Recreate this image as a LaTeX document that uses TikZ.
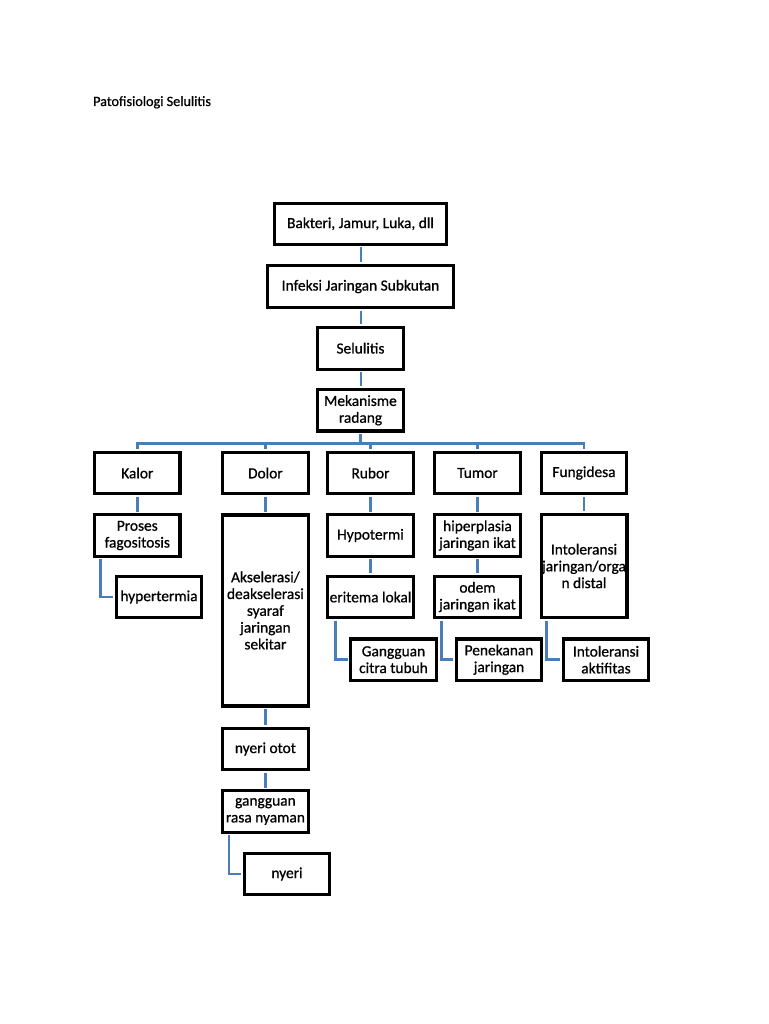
\documentclass[tikz,border=0pt]{standalone}
\usepackage{fontspec}
\setmainfont{Carlito}
\newfontfamily\boxfont{Carlito}[RawFeature={embolden=0.8}]
\usepackage{tikz}
\newcommand{\TS}{\boxfont\fontsize{15.4}{16.8}\selectfont}
\newcommand{\lw}{3.2pt}
\definecolor{linkblue}{RGB}{74,126,187}

\begin{document}
\begin{tikzpicture}[x=1pt,y=-1pt,
    box/.style={draw=black,line width=\lw,fill=white,align=center,inner sep=1pt,minimum width=85.5pt,minimum height=41.5pt,font=\TS},
    link/.style={draw=linkblue,line width=2.7pt,shorten <=1.5pt,shorten >=1.5pt},
    thinlink/.style={link,line width=2pt}]
    \useasboundingbox (0,0) rectangle (768,1024);
    \fill[white] (0,0) rectangle (768,1024);

    \node[anchor=base west,inner sep=0pt,font=\boxfont\fontsize{14.2}{16}\selectfont] (judul) at (93,106) {Patofisiologi Selulitis};

    % batang utama
    \node[box,minimum width=172.5pt,minimum height=41pt] (bakteri) at (360.5,223.7) {Bakteri, Jamur, Luka, dll};
    \node[box,minimum width=186pt,minimum height=42pt] (infeksi) at (360.5,286.5) {Infeksi Jaringan Subkutan};
    \node[box,minimum height=42pt] (selulitis) at (360.5,348.2) {Selulitis};
    \node[box] (mekanisme) at (360.5,410.3) {Mekanisme\\radang};

    \draw[thinlink] (bakteri) -- (infeksi);
    \draw[thinlink] (infeksi) -- (selulitis);
    \draw[thinlink] (selulitis) -- (mekanisme);

    % lima tanda radang
    \node[box] (kalor) at (137.3,473) {Kalor};
    \node[box] (dolor) at (265.4,473) {Dolor};
    \node[box] (rubor) at (370.5,473) {Rubor};
    \node[box] (tumor) at (477.5,473) {Tumor};
    \node[box] (fungi) at (584,473) {Fungidesa};

    \foreach \n in {kalor,dolor,rubor,tumor,fungi}
        \draw[link] (mekanisme.south) -- ++(0,11) -| (\n.north);

    % kalor
    \node[box] (proses) at (137.3,535.5) {Proses\\fagositosis};
    \node[box] (hyper) at (159,597) {hypertermia};
    \draw[link] (kalor) -- (proses);
    \draw[link] ([xshift=7.5pt]proses.south west) |- (hyper.west);

    % dolor
    \node[box,minimum height=191pt] (aksel) at (265.4,610.5) {Akselerasi/\\deakselerasi\\syaraf\\jaringan\\sekitar};
    \node[box] (otot) at (265.4,749) {nyeri otot};
    \node[box] (nyaman) at (265.4,811.5) {gangguan\\rasa nyaman};
    \node[box] (nyeri) at (287,874) {nyeri};
    \draw[link] (dolor) -- (aksel);
    \draw[link] (aksel) -- (otot);
    \draw[link] (otot) -- (nyaman);
    \draw[link] ([xshift=8pt]nyaman.south west) |- (nyeri.west);

    % rubor
    \node[box] (hypo) at (370.5,535.5) {Hypotermi};
    \node[box] (eritema) at (370.5,597) {eritema lokal};
    \node[box] (citra) at (393.5,659.7) {Gangguan\\citra tubuh};
    \draw[link] (rubor) -- (hypo);
    \draw[link] (hypo) -- (eritema);
    \draw[link] ([xshift=9pt]eritema.south west) |- (citra.west);

    % tumor
    \node[box] (hiper) at (477.5,535.5) {hiperplasia\\jaringan ikat};
    \node[box] (odem) at (477.5,597) {odem\\jaringan ikat};
    \node[box] (tekan) at (499,659.7) {Penekanan\\jaringan};
    \draw[link] (tumor) -- (hiper);
    \draw[link] (hiper) -- (odem);
    \draw[link] ([xshift=8pt]odem.south west) |- (tekan.west);

    % fungidesa
    \node[box,minimum height=103pt] (intol) at (584,566) {Intoleransi\\jaringan/orga\\n distal};
    \node[box] (aktif) at (606,659.7) {Intoleransi\\aktifitas};
    \draw[link] (fungi) -- (intol);
    \draw[link] ([xshift=7pt]intol.south west) |- (aktif.west);
\end{tikzpicture}
\end{document}
